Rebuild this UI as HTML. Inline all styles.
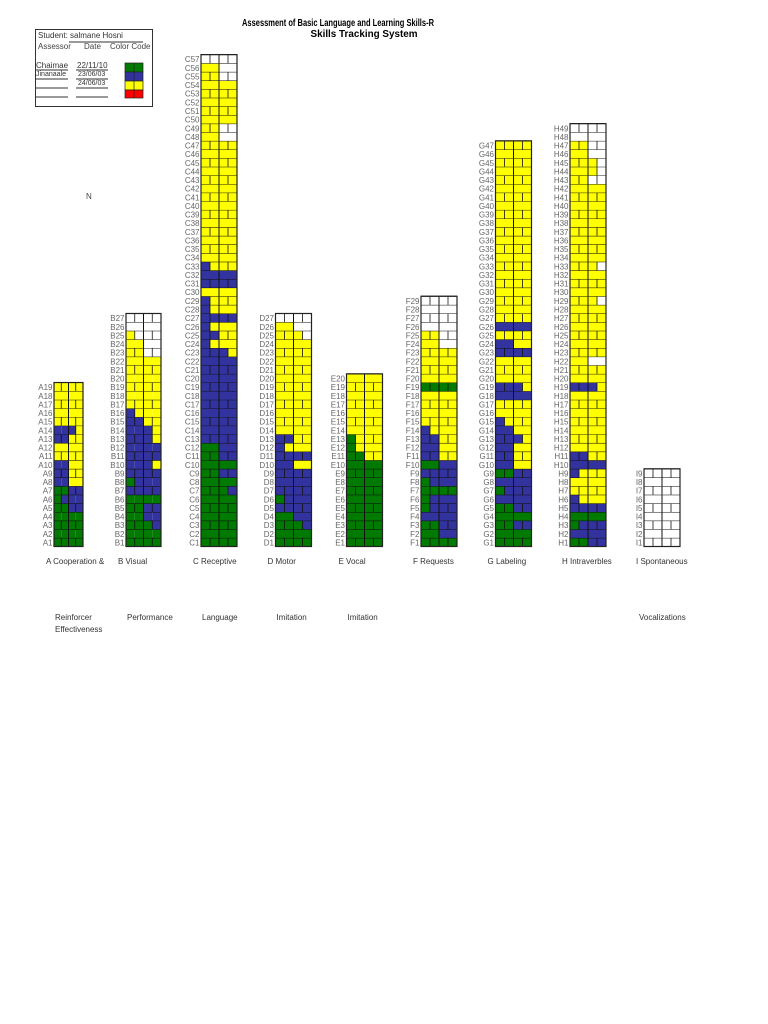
<!DOCTYPE html>
<html><head><meta charset="utf-8"><style>
body{margin:0;background:#fff;width:768px;height:1024px;overflow:hidden;font-family:"Liberation Sans",sans-serif}
svg{position:absolute;left:0;top:0}
</style></head><body>
<svg id="chart" width="768" height="1024" font-family="Liberation Sans, sans-serif">
<text x="338" y="26" font-size="10" font-weight="bold" text-anchor="middle" textLength="192" lengthAdjust="spacingAndGlyphs">Assessment of Basic Language and Learning Skills-R</text>
<text x="364" y="37" font-size="10" font-weight="bold" text-anchor="middle" textLength="107" lengthAdjust="spacingAndGlyphs">Skills Tracking System</text>
<g>
<rect x="35.5" y="29.5" width="117" height="77" fill="none" stroke="#333"/>
<text x="38" y="38" font-size="8" fill="#333">Student:  salmane Hosni</text>
<line x1="69" y1="42" x2="143" y2="42" stroke="#333"/>
<text x="38" y="49" font-size="8" fill="#444">Assessor</text>
<text x="84" y="49" font-size="8" fill="#444">Date</text>
<text x="110" y="49" font-size="8" fill="#444">Color Code</text>
<text x="36" y="68" font-size="8" fill="#333">Chaimae</text>
<text x="77" y="68" font-size="8" fill="#333">22/11/10</text>
<text x="36" y="76" font-size="7" fill="#333">Jinanaale</text>
<text x="78" y="76" font-size="7" fill="#333">23/06/03</text>
<text x="78" y="85" font-size="7" fill="#333">24/06/03</text>
<g stroke="#333"><line x1="36" y1="70" x2="68" y2="70"/><line x1="76" y1="70" x2="108" y2="70"/>
<line x1="36" y1="79" x2="68" y2="79"/><line x1="76" y1="79" x2="108" y2="79"/>
<line x1="36" y1="88" x2="68" y2="88"/><line x1="76" y1="88" x2="108" y2="88"/>
<line x1="36" y1="97" x2="68" y2="97"/><line x1="76" y1="97" x2="108" y2="97"/></g>
</g>
<g>
<rect x="125" y="63" width="18" height="9" fill="#007a00" stroke="#222" stroke-width="0.7"/>
<rect x="125" y="72" width="18" height="9" fill="#3333a0" stroke="#222" stroke-width="0.7"/>
<rect x="125" y="81" width="18" height="9" fill="#ffff00" stroke="#222" stroke-width="0.7"/>
<rect x="125" y="90" width="18" height="8" fill="#ff0000" stroke="#222" stroke-width="0.7"/>
<line x1="134" y1="63" x2="134" y2="98" stroke="#222" stroke-width="0.7"/>
</g>
<text x="86" y="199" font-size="8" fill="#444">N</text>
<g id="grids"></g>
</svg>
<script>
const categories=["A","B","C","D","E","F","G","H","I"];
const catNames=["Cooperation &","Visual","Receptive","Motor","Vocal","Requests","Labeling","Intraverbles","Spontaneous"];
const catNames2=["Reinforcer","Performance","Language","Imitation","Imitation","","","","Vocalizations"];
// rows listed from item 1 upward: G=green, B=blue, Y=yellow, W=blank
const colA="GGGG GGGG GGGG GGGG GGBB GBBB GGBB BBYY BBYY BBYY YYYY YYYY BBYY BBBY YYYY YYYY YYYY YYYY YYYY".split(" ");
const colB="GGGG GGGG GGGB GGBB GGBB GGGG BBBB GBBB BBBB BBBY BBBB BBBB BBBY BBBY BBYY BYYY YYYY YYYY YYYY YYYY YYYY YYYY YYWW YYWW YWWW WWWW WWWW".split(" ");
const colC="GGGG GGGG GGGG GGGG GGGG GGGG GGGB GGGG GGBB GGGG GGBB GGBB BBBB BBBB BBBB BBBB BBBB BBBB BBBB BBBB BBBB BBBB BBBY BYYY BBYY BYYY BBBB BYYY BYYY YYYY BBBB BBBB BYYY YYYY YYYY YYYY YYYY YYYY YYYY YYYY YYYY YYYY YYYY YYYY YYYY YYYY YYYY YYWW YYWW YYYY YYYY YYYY YYYY YYYY YYWW YYWW WWWW".split(" ");
const colD="GGGG GGGG GGGB GGBB BBBB GBBB BBBB BBBB BBBB BBYY BBBB BYYY BBYY YYYY YYYY YYYY YYYY YYYY YYYY YYYY YYYY YYYY YYYY YYYY YYYW YYWW WWWW".split(" ");
const colE="GGGG GGGG GGGG GGGG GGGG GGGG GGGG GGGG GGGG GGGG GGYY GYYY GYYY YYYY YYYY YYYY YYYY YYYY YYYY YYYY".split(" ");
const colF="GGGG GGBB GGBB BBBB GBBB GBBB GGGG GBBB BBBB GGBB BBYY BBYY BBYY BYYY YYYY YYYY YYYY YYYY GGGG YYYY YYYY YYYY YYYY YYWW YYWW WWWW WWWW WWWW WWWW".split(" ");
const colG="GGGG GGGG GGBB GGGG GGBB BBBB GBBB BBBB GGBB BBYY BBYY BBYY BBBY BBYY BYYY YYYY YYYY BBBB BBBY YYYY YYYY YYYY BBBB BBYY YYYY BBBB YYYY YYYY YYYY YYYY YYYY YYYY YYYY YYYY YYYY YYYY YYYY YYYY YYYY YYYY YYYY YYYY YYYY YYYY YYYY YYYY YYYY".split(" ");
const colH="GGBB BBBB GBBB GGGG BBBB BYYY YYYY YYYY BYYY BBBB BBYY YYYY YYYY YYYY YYYY YYYY YYYY YYYY BBBY YYYY YYYY YYWW YYYY YYYY YYYY YYYY YYYY YYYY YYYW YYYY YYYY YYYY YYYW YYYY YYYY YYYY YYYY YYYY YYYY YYYY YYYY YYYY YYWW YYYW YYYW YYWW YYWW WWWW WWWW".split(" ");
const colI="WWWW WWWW WWWW WWWW WWWW WWWW WWWW WWWW WWWW".split(" ");
const columns=[colA,colB,colC,colD,colE,colF,colG,colH,colI];
const colX=[54,126,201,275.5,346.5,421,495.5,570,644];
const colW=[29,35,36,36,36,36,36,36,36];
const bottom=546.5, rh=8.63;
const fill={G:"#007a00",B:"#3333a0",Y:"#ffff00",W:"#ffffff"};
const NS="http://www.w3.org/2000/svg";
const root=document.getElementById("grids");
function mk(tag,attrs,parent){const e=document.createElementNS(NS,tag);for(const k in attrs)e.setAttribute(k,attrs[k]);parent.appendChild(e);return e;}
function rowY(i){return bottom-(i+1)*rh;}
columns.forEach((rows,ci)=>{
  const g=mk("g",{},root);
  
  
  const x0=colX[ci],w=colW[ci],cw=w/4;
  rows.forEach((r,ri)=>{
    const y=rowY(ri);
    for(let k=0;k<4;k++){
      const c=mk("rect",{x:x0+k*cw,y:y,width:cw,height:rh,fill:fill[r[k]],stroke:"none"},g);
      
      
    }
    mk("line",{x1:x0,x2:x0+w,y1:y,y2:y,stroke:"#111","stroke-width":1},g);
    mk("line",{x1:x0+2*cw,x2:x0+2*cw,y1:y,y2:y+rh,stroke:"#111","stroke-width":1},g);
    if(r[0]!==r[1]||ri%2===0) mk("line",{x1:x0+cw,x2:x0+cw,y1:y,y2:y+rh,stroke:"#111","stroke-width":0.8},g);
    if(r[2]!==r[3]||ri%2===0) mk("line",{x1:x0+3*cw,x2:x0+3*cw,y1:y,y2:y+rh,stroke:"#111","stroke-width":0.8},g);
    const t=mk("text",{x:x0-1.5,y:y+rh-1,"font-size":8,fill:"#666","text-anchor":"end"},g);
    t.textContent=categories[ci]+(ri+1);
    
    
  });
  mk("rect",{x:x0,y:rowY(rows.length-1),width:w,height:rows.length*rh,fill:"none",stroke:"#222","stroke-width":1.2},g);
  const lx=x0-8;
  const l1=mk("text",{x:lx,y:564,"font-size":8,fill:"#333"},g);
  l1.textContent=categories[ci]+"  "+catNames[ci];
  
  
  if(catNames2[ci]){
    const l2=mk("text",{x:ci===8?639:x0+1,y:620,"font-size":8,fill:"#333"},g);
    l2.textContent=catNames2[ci];
    
    
  }
});
const ef=mk("text",{x:55,y:632,"font-size":8,fill:"#333"},root);
ef.textContent="Effectiveness";


</script>
</body></html>
